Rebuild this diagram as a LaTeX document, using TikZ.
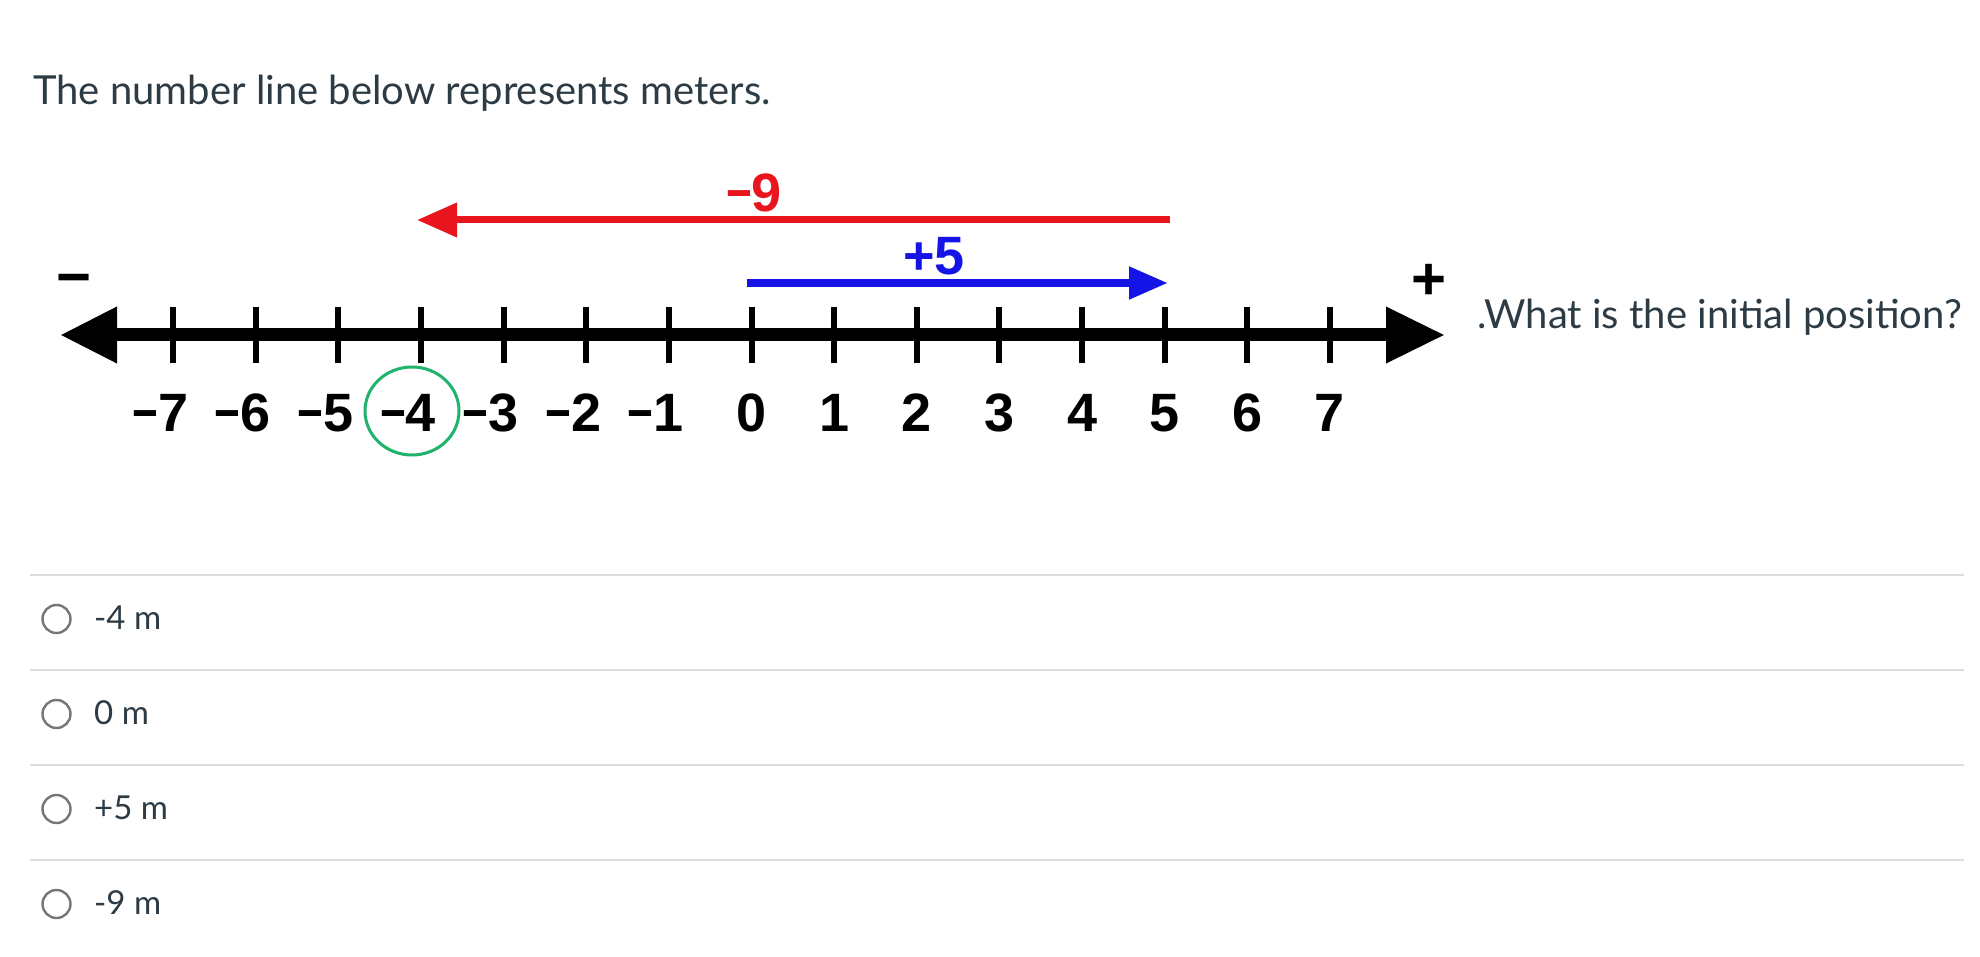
\documentclass[tikz,border=0pt]{standalone}
\usepackage{graphicx}
\usepackage{fontspec}
\setmainfont{Lato}
\newfontfamily\numfont{Liberation Sans}
\usetikzlibrary{arrows.meta,shapes.geometric}
\definecolor{canvastext}{HTML}{2D3B45}
\definecolor{moveblue}{HTML}{1414E6}
\definecolor{movered}{HTML}{E8141E}
\definecolor{markgreen}{HTML}{1FB36B}
\definecolor{rulegray}{HTML}{DDDDDD}
\definecolor{radiogray}{HTML}{767676}
\newcommand{\narrowminus}{\scalebox{0.82}[1]{−}}

\begin{document}
\begin{tikzpicture}[
  x=1pt, y=-1pt,
  qtext/.style={font=\fontsize{40}{48}\selectfont, text=canvastext,
                inner sep=0pt, anchor=base west},
  opttext/.style={font=\fontsize{33}{40}\selectfont, text=canvastext,
                  inner sep=0pt, anchor=base west},
  numlabel/.style={font=\numfont\bfseries\fontsize{54}{60}\selectfont,
                   inner sep=0pt, anchor=base},
  signlabel/.style={font=\numfont\bfseries\fontsize{60}{60}\selectfont,
                    inner sep=0pt, anchor=base},
  tickmark/.style={line width=6pt},
  move/.style={line width=7pt},
  radio/.style={circle, draw=radiogray, line width=2.4pt, minimum size=28pt,
                inner sep=0pt},
  divider/.style={draw=rulegray, line width=2pt},
]
\fill[white] (0,0) rectangle (1980,957);
\useasboundingbox (0,0) rectangle (1980,957);

% Question
\node[qtext] (title) at (33,105) {The number line below represents meters.};
\node[qtext] (question) at (1477,329) {.What is the initial position?};

% Number line
\foreach \k in {-7,...,7}
  \coordinate (t\k) at ({751.5+82.64*\k},335);
\coordinate (lend) at (60,335);
\coordinate (rend) at (1445,335);
\draw[line width=13pt, {Triangle[length=57pt,width=53pt]}-{Triangle[length=59pt,width=53pt]}]
  (lend) -- (rend);
\foreach \k in {-7,...,7}
  \draw[tickmark] ([yshift=28pt]t\k) -- ([yshift=-28pt]t\k);
\foreach \k in {1,...,7}
  \node[numlabel] (l-\k) at ([yshift=-96pt]t-\k) {\llap{\narrowminus}\k};
\foreach \k in {0,...,7}
  \node[numlabel] (l\k) at ([yshift=-96pt]t\k) {\k};
\node[signlabel] (negsign) at (74,298) {−};
\node[signlabel] (possign) at (1429,300) {+};

% Circled answer
\node[ellipse, draw=markgreen, line width=3pt, minimum width=94pt,
      minimum height=88pt] (circled) at (412,411) {};

% Moves
\coordinate (redtail) at (1170,220);
\coordinate (redtip) at (417,220);
\draw[move, movered, -{Triangle[length=40pt,width=33pt]}] (redtail) -- (redtip);
\node[numlabel, text=movered] (dispred) at (754,212) {\narrowminus9};
\coordinate (bluetail) at (747,283);
\coordinate (bluetip) at (1168,283);
\draw[move, moveblue, line width=8pt, -{Triangle[length=39pt,width=31pt]}] (bluetail) -- (bluetip);
\node[numlabel, text=moveblue] (dispblue) at (934,275) {+5};

% Choices
\foreach \y in {575,670,765,860}
  \draw[divider] (30,\y) -- (1964,\y);
\foreach \y/\ans in {619/-4 m, 714/0 m, 809/+5 m, 904/-9 m} {
  \node[radio] (radio\y) at (56.5,\y) {};
  \node[opttext] (ans\y) at (94,\y+10) {\ans};
}
\end{tikzpicture}
\end{document}
